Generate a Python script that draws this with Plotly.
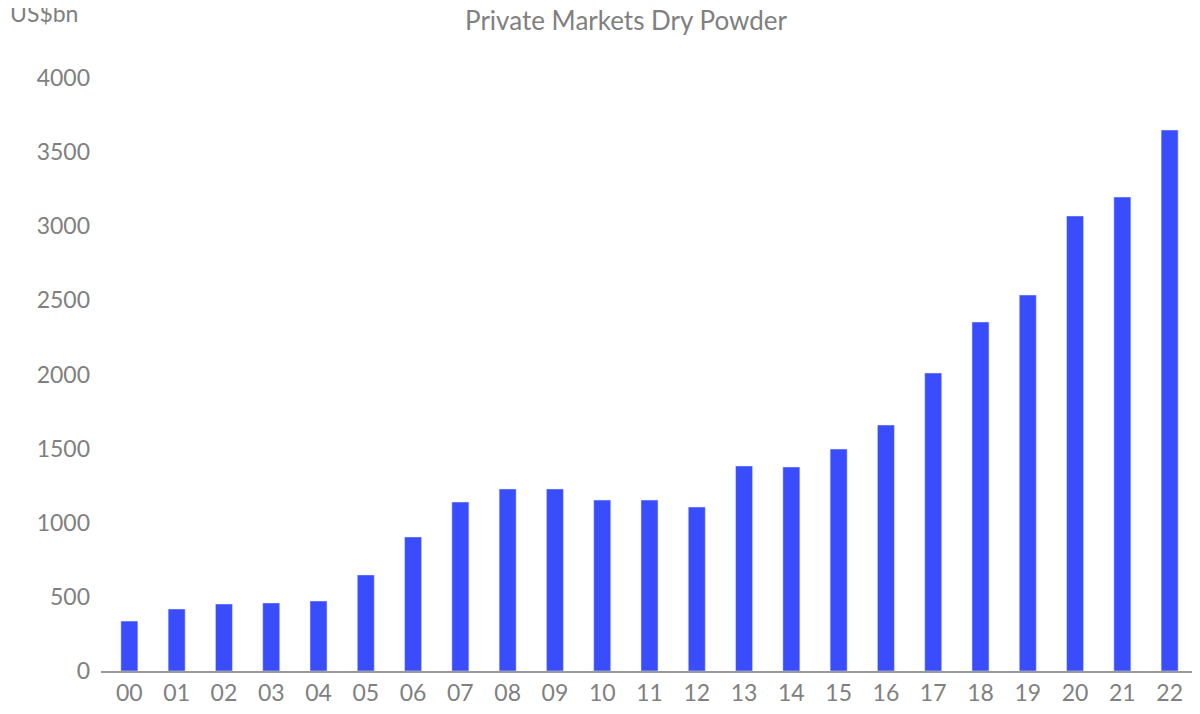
import plotly.graph_objects as go

years = ["00","01","02","03","04","05","06","07","08","09","10","11","12","13","14","15","16","17","18","19","20","21","22"]
values = [337,418,452,459,472,648,904,1140,1228,1228,1153,1153,1106,1383,1376,1497,1659,2010,2354,2536,3069,3197,3649]

grey = "#808080"
fig = go.Figure(go.Bar(x=years, y=values, marker_color="#3a4dfc", width=0.36))
fig.update_layout(
    width=1200, height=714, plot_bgcolor="white", paper_bgcolor="white",
    margin=dict(l=93, r=10, t=70, b=51),
    font=dict(family="Lato", size=23, color=grey),
    title=dict(text="Private Markets Dry Powder", x=0.515, xanchor="center", y=0.982, yanchor="middle",
               font=dict(size=26, color=grey)),
    showlegend=False,
    annotations=[dict(text="US$bn", xref="paper", yref="paper", x=-0.085, y=1.11, xanchor="left",
                      yanchor="middle", showarrow=False, font=dict(size=23, color=grey))],
)
fig.update_yaxes(range=[0, 4000], dtick=500, showgrid=False, zeroline=False, ticks="", ticklabelstandoff=10)
fig.update_xaxes(showline=True, linecolor="#999999", linewidth=2, ticks="", range=[-0.6, 22.6])
fig.write_html("out.html")
